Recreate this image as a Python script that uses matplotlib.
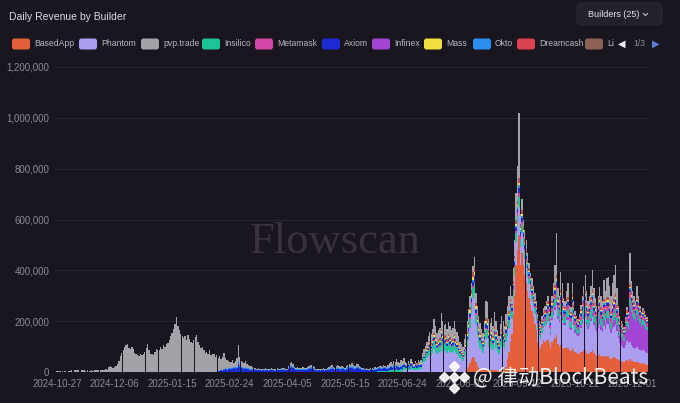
import matplotlib.pyplot as plt
import numpy as np
import pandas as pd
from matplotlib.patches import FancyBboxPatch
from matplotlib.lines import Line2D
from matplotlib.transforms import Affine2D

plt.rcParams['font.family'] = ['Liberation Sans', 'DejaVu Sans']

start = "2024-10-27"
n_days = 411
tick_labels = ["2024-10-27", "2024-12-06", "2025-01-15", "2025-02-24", "2025-04-05",
               "2025-05-15", "2025-06-24", "2025-08-03", "2025-09-12", "2025-10-22",
               "2025-12-01"]
y_ticks = [0, 200000, 400000, 600000, 800000, 1000000, 1200000]

# daily revenue per builder, thousands of USD, one value per day from 2024-10-27
pvp_trade = (
    [4, 5, 4, 0, 5, 4, 4, 0, 5, 4, 6, 0, 8, 6, 7, 6, 0, 6, 7, 6,
     5, 6, 0, 5, 6, 5, 6, 8, 7, 6, 7, 6, 8, 9, 10, 8, 18, 22, 20, 16,
     18, 24, 30, 45, 62, 75, 88, 98, 105, 110, 95, 90, 100, 92, 75, 70, 65, 62, 72, 68,
     70, 80, 95, 110, 85, 70, 72, 68, 80, 92, 85, 88, 100, 92, 105, 98, 110, 115, 125, 140,
     155, 170, 190, 215, 180, 165, 150, 140, 135, 140, 125, 145, 130, 120, 115, 125, 138, 146, 120, 105]
    + [95, 100, 85, 75, 80, 70, 88, 65, 72, 70, 60, 68, 51, 57, 44, 50, 64, 40, 36, 29,
       23, 22, 29, 15, 22, 34, 61, 34, 24, 20, 18, 22, 15, 13, 12, 10]
    + [5, 5, 4, 4, 5, 4, 4, 4, 3, 4, 4, 4, 4, 5, 4, 3, 4, 4, 4, 4, 5, 5, 4, 4, 4,
       8, 12, 14, 10, 6, 5, 5, 5, 4, 6, 6, 5, 5, 5, 7, 8, 8, 7, 5,
       4, 4, 4, 3, 4, 4, 4, 4, 5, 5, 7, 8, 6, 5, 7, 9, 7, 5, 8, 6, 6, 7, 8,
       9, 8, 10, 8, 7, 9, 10, 8, 6, 5, 4, 4, 5, 4, 4, 5, 4, 4, 5, 5, 5, 6, 6, 4, 6, 5, 4]
    + [11, 14, 17, 12, 19, 16, 23, 17, 15, 23, 16, 23, 13, 10, 15, 4, 13, 8, 3, 8, 6, 11, 8, 10]
    + [19, 20, 23, 26, 33, 38, 35, 40, 55, 43, 36, 40, 43, 60, 50, 44, 45, 43, 48, 44,
       40, 43, 50, 43, 39, 34, 29, 28, 24, 30, 37, 42, 49, 42, 27, 26, 36, 37, 42, 40,
       36, 33, 32, 43, 67, 69, 48, 40, 49, 39, 54, 44, 36, 28, 39, 50, 43, 36, 42]
    + [64, 61, 52, 31, 51, 63, 107, 136, 255,
       36, 41, 26, 38, 38, 29, 22, 13, 33, 28, 26, 20, 16, 16, 17, 14, 18,
       16, 15, 21, 10, 12,
       20, 41, 78, 166, 36, 29, 73, 57, 30, 24, 32, 53, 18, 18,
       42, 18, 14, 10, 8, 14, 15, 23, 35, 61, 47, 32, 31, 43, 75, 57,
       34, 25, 33, 40, 44, 44, 73, 57, 74, 79, 71, 59, 80, 92, 109, 67,
       32, 18, 10, 8, 8, 10, 13, 10,
       120, 47, 30, 26, 23, 47, 30, 12, 10, 9, 8, 8, 8]
)

axiom = (
    [0] * 112
    + [4, 5, 6, 5, 8, 10, 8, 10, 12, 10, 12, 14, 12, 15, 30, 18, 15, 14, 12, 14, 10, 10, 9, 8]
    + [9, 7, 7, 6, 8, 6, 5, 6, 5, 7, 6, 5, 6, 7, 6, 5, 5, 7, 6, 6, 7, 8, 7, 6, 6,
       12, 16, 18, 14, 10, 7, 9, 8, 7, 8, 9, 7, 8, 9, 12, 14, 13, 11, 9,
       6, 5, 6, 5, 6, 7, 5, 6, 7, 9, 11, 13, 10, 8, 12, 13, 11, 9, 12, 10, 8, 11, 13,
       15, 14, 17, 13, 11, 15, 16, 12, 10, 7, 7, 6, 8, 6, 5, 7, 7, 6, 9, 8, 9, 11, 10, 8, 12, 11, 9]
    + [8, 9, 10, 8, 10, 9, 11, 9, 8, 10, 9, 10, 8, 7, 8, 6, 9, 7, 6, 8, 7, 8, 7, 8]
    + [3, 4, 4, 5, 6, 7, 6, 7, 9, 7, 6, 7, 7, 9, 8, 7, 8, 7, 8, 7,
       7, 7, 8, 7, 6, 6, 5, 4, 4, 5, 6, 8, 10, 12, 14, 16, 17, 12, 10, 9,
       8, 7, 6, 8, 11, 11, 8, 8, 9, 7, 9, 8, 7, 6, 8, 9, 8, 7, 9]
    + [10, 12, 12, 11, 12, 14, 15, 16, 20,
       16, 16, 14, 13, 12, 11, 10, 10, 9, 9, 8, 8,
       7, 6, 6, 7, 8, 9, 10, 10, 9, 8,
       9, 10, 12, 14, 10, 9, 12, 11, 9, 9, 10, 11, 9, 9,
       11, 9, 8, 8, 7, 8, 9, 10, 11, 12, 10, 9, 10, 11, 12, 10,
       9, 8, 10, 11, 9, 8, 11, 10, 11, 11, 10, 9, 10, 11, 12, 10,
       9, 8, 7, 6, 6, 7, 8, 7, 11, 10, 9, 8, 7, 9, 8, 7, 6, 7, 7, 6, 6]
)

okto = (
    [0] * 115
    + [3, 4, 5, 4, 6, 5, 6, 5, 6, 8, 6, 15, 8, 6, 6, 5, 6, 5, 5, 4, 4]
    + [4, 3, 3, 2, 3, 3, 2, 2, 2, 3, 2, 2, 3, 3, 2, 2, 2, 3, 3, 2, 3, 3, 3, 2, 3,
       5, 7, 8, 6, 4, 3, 4, 3, 3, 3, 4, 3, 3, 4, 5, 6, 5, 4, 4,
       2, 2, 3, 2, 2, 3, 2, 3, 3, 4, 4, 5, 4, 3, 5, 5, 4, 4, 5, 4, 3, 4, 5,
       6, 6, 7, 5, 4, 6, 6, 5, 4, 3, 3, 2, 3, 3, 2, 3, 3, 2, 4, 3, 4, 5, 4, 4, 5, 5, 4]
    + [4, 5, 5, 4, 6, 5, 6, 5, 4, 5, 4, 5, 4, 3, 4, 3, 4, 3, 3, 4, 3, 3, 3, 3]
    + [2, 2, 2, 3, 3, 3, 3, 4, 4, 4, 3, 3, 4, 5, 4, 4, 4, 3, 4, 4,
       3, 4, 4, 3, 3, 3, 2, 2, 2, 3, 3, 4, 5, 6, 7, 8, 9, 6, 5, 4,
       4, 3, 3, 4, 6, 5, 4, 4, 4, 4, 5, 4, 3, 3, 4, 4, 4, 4, 5]
    + [5, 6, 6, 5, 6, 7, 8, 8, 10,
       8, 8, 7, 6, 6, 5, 5, 5, 4, 4, 4, 4,
       3, 3, 3, 3, 4, 4, 5, 5, 4, 4,
       4, 5, 6, 7, 5, 4, 6, 5, 4, 4, 5, 5, 4, 4,
       5, 4, 4, 4, 3, 4, 4, 5, 5, 6, 5, 4, 5, 5, 6, 5,
       4, 4, 5, 5, 4, 4, 5, 5, 5, 5, 5, 4, 5, 5, 6, 5,
       4, 4, 3, 3, 3, 3, 4, 3, 5, 5, 4, 4, 3, 4, 4, 3, 3, 3, 3, 3, 3]
)

insilico = (
    [0] * 223
    + [2, 3, 2, 2, 4, 3, 3]
    + [5, 7, 8, 6, 10, 8, 12, 9, 8, 10, 9, 12, 9, 8, 10, 7, 12, 8, 7, 9, 8, 10, 9, 10]
    + [12, 14, 16, 18, 22, 24, 22, 26, 30, 28, 24, 25, 26, 34, 30, 28, 28, 25, 30, 27,
       25, 26, 30, 25, 24, 21, 18, 16, 15, 20, 22, 28, 32, 35, 38, 40, 42, 35, 32, 30,
       27, 25, 22, 28, 35, 35, 30, 27, 30, 26, 32, 28, 24, 20, 26, 30, 28, 25, 30]
    + [25, 28, 30, 26, 30, 32, 35, 35, 40,
       35, 35, 32, 30, 28, 26, 25, 24, 22, 22, 20, 20,
       18, 16, 15, 18, 20, 22, 24, 25, 22, 20,
       24, 26, 30, 35, 26, 24, 30, 28, 24, 22, 25, 28, 22, 22,
       28, 24, 22, 20, 18, 20, 22, 25, 28, 30, 26, 24, 25, 28, 30, 26,
       24, 22, 25, 28, 24, 22, 28, 25, 28, 28, 26, 24, 26, 28, 30, 26,
       22, 20, 18, 16, 15, 18, 20, 18, 28, 24, 22, 20, 18, 22, 20, 18, 16, 18, 17, 16, 15]
)

phantom = (
    [0] * 240
    + [4, 6, 6, 7, 8, 6, 10, 8, 7, 9, 8, 10, 9, 11]
    + [32, 40, 45, 55, 62, 72, 68, 76, 92, 80, 70, 74, 78, 100, 88, 82, 85, 76, 88, 80,
       74, 78, 88, 76, 72, 62, 54, 50, 45, 58, 66, 88, 105, 140, 180, 230, 250, 150, 120, 100,
       85, 78, 70, 90, 125, 122, 95, 85, 96, 80, 105, 90, 74, 62, 85, 98, 90, 80, 100]
    + [90, 95, 100, 60, 60, 80, 90, 100, 110,
       70, 75, 70, 65, 60, 55, 55, 50, 40, 40, 40, 40, 45, 40, 40, 45, 50,
       60, 65, 75, 60, 50,
       85, 100, 110, 120, 100, 95, 120, 110, 95, 90, 105, 110, 85, 85,
       120, 100, 75, 70, 70, 75, 95, 110, 120, 130, 110, 100, 110, 120, 130, 110,
       105, 95, 110, 120, 105, 100, 120, 110, 125, 125, 115, 100, 115, 120, 130, 110,
       85, 70, 65, 60, 55, 65, 75, 70,
       70, 60, 58, 55, 52, 58, 55, 52, 50, 52, 50, 48, 46]
)

mass = (
    [0] * 245
    + [2, 3, 2, 3, 2, 2, 2, 2, 3]
    + [2, 3, 3, 4, 4, 5, 5, 5, 6, 5, 5, 5, 5, 7, 6, 6, 6, 5, 6, 5,
       5, 5, 6, 5, 5, 4, 4, 3, 3, 4, 5, 6, 7, 9, 10, 12, 12, 9, 8, 7,
       6, 5, 5, 6, 8, 8, 6, 6, 6, 5, 7, 6, 5, 4, 6, 7, 6, 5, 7]
    + [4, 5, 5, 4, 5, 6, 7, 8, 10,
       8, 8, 7, 6, 6, 5, 5, 5, 4, 4, 4, 4,
       3, 3, 3, 4, 4, 5, 5, 5, 4, 4,
       5, 5, 6, 7, 5, 5, 6, 5, 5, 4, 5, 6, 4, 4,
       6, 5, 4, 4, 4, 4, 5, 5, 6, 6, 5, 5, 5, 6, 7, 5,
       5, 4, 5, 6, 5, 4, 6, 5, 6, 6, 5, 5, 5, 6, 7, 5,
       4, 4, 4, 3, 3, 4, 4, 4, 6, 5, 5, 4, 4, 5, 4, 4, 3, 4, 4, 3, 3]
)

dreamcash = (
    [0] * 245
    + [3, 2, 2, 3, 3, 2, 2, 3, 2]
    + [3, 2, 4, 3, 5, 4, 6, 5, 5, 6, 4, 6, 5, 6, 7, 5, 6, 6, 5, 6,
       6, 4, 6, 6, 4, 5, 3, 4, 3, 4, 6, 5, 8, 8, 11, 11, 13, 8, 9, 6,
       7, 5, 4, 7, 7, 9, 5, 7, 5, 6, 6, 7, 4, 5, 5, 8, 5, 6, 6]
    + [5, 6, 6, 5, 6, 7, 9, 10, 12,
       10, 10, 9, 8, 7, 7, 6, 6, 6, 5, 5, 5,
       5, 4, 4, 5, 5, 6, 6, 7, 6, 5,
       6, 7, 8, 9, 7, 6, 8, 7, 6, 6, 7, 7, 6, 6,
       8, 6, 6, 5, 5, 6, 6, 7, 8, 8, 7, 6, 7, 8, 9, 7,
       6, 6, 7, 8, 7, 6, 8, 7, 8, 8, 7, 7, 7, 8, 9, 7,
       6, 5, 5, 5, 4, 5, 6, 5, 8, 7, 6, 6, 5, 6, 6, 5, 5, 5, 5, 4, 4]
)

metamask = (
    [0] * 254
    + [1, 2, 2, 2, 3, 3, 3, 3, 4, 4, 3, 3, 3, 5, 4, 4, 4, 3, 4, 4,
       3, 3, 4, 3, 3, 3, 2, 2, 2, 3, 3, 4, 5, 6, 7, 8, 8, 6, 5, 4,
       4, 3, 3, 4, 6, 6, 4, 4, 4, 4, 5, 4, 3, 3, 4, 5, 4, 4, 5]
    + [3, 3, 4, 4, 5, 6, 8, 10, 15,
       10, 10, 9, 8, 8, 7, 7, 8, 8, 9, 9, 10,
       10, 9, 9, 10, 12, 14, 15, 16, 14, 12,
       15, 16, 18, 22, 16, 15, 18, 17, 15, 14, 16, 18, 14, 14,
       18, 15, 14, 13, 12, 14, 16, 18, 20, 22, 18, 16, 18, 20, 24, 18,
       16, 15, 18, 20, 17, 15, 22, 18, 22, 22, 20, 18, 20, 22, 25, 20,
       16, 14, 13, 12, 11, 14, 16, 15, 25, 22, 20, 18, 16, 20, 18, 16, 14, 15, 14, 13, 12]
)

li = (
    [0] * 254
    + [2, 2, 2, 3, 3, 3, 3, 4, 4, 4, 3, 3, 4, 5, 4, 4, 4, 3, 4, 4,
       3, 4, 4, 3, 3, 3, 2, 2, 2, 3, 3, 4, 5, 6, 7, 8, 9, 6, 5, 4,
       4, 3, 3, 4, 6, 5, 4, 4, 4, 4, 5, 4, 3, 3, 4, 4, 4, 4, 5]
    + [4, 4, 5, 4, 5, 5, 6, 7, 8,
       7, 7, 6, 6, 5, 5, 5, 4, 4, 4, 4, 4,
       3, 3, 3, 4, 4, 4, 5, 5, 4, 4,
       4, 5, 5, 6, 5, 4, 5, 5, 4, 4, 5, 5, 4, 4,
       5, 4, 4, 4, 4, 4, 4, 5, 5, 6, 5, 4, 5, 5, 6, 5,
       4, 4, 5, 5, 5, 4, 5, 5, 5, 5, 5, 4, 5, 5, 6, 5,
       4, 4, 3, 3, 3, 4, 4, 4, 5, 5, 4, 4, 4, 4, 4, 4, 3, 3, 3, 3, 3]
)

based_app = (
    [0] * 285
    + [10, 20, 35, 50, 60, 55, 40, 25, 15, 10, 8,
       6, 7, 8, 6, 5, 6, 7, 6, 8, 6, 5, 7, 8, 6, 7, 10, 20]
    + [50, 80, 120, 150, 230, 300, 420, 480, 540,
       420, 470, 420, 380, 350, 320, 290, 265, 240, 215, 190, 165, 120, 100, 90, 110, 125,
       120, 125, 125, 115, 95,
       120, 125, 135, 145, 110, 100, 105, 95, 90, 95, 100, 95, 85, 82,
       95, 85, 80, 75, 70, 72, 78, 80, 88, 85, 75, 70, 72, 80, 85, 75,
       65, 62, 64, 70, 62, 58, 62, 60, 64, 62, 56, 52, 55, 58, 56, 50,
       48, 45, 42, 40, 38, 42, 46, 44,
       50, 45, 42, 40, 38, 40, 36, 34, 32, 34, 32, 30, 28]
)

infinex = (
    [0] * 340
    + [5, 6, 8, 6,
       8, 10, 12, 15, 10, 9, 12, 10, 8, 8, 10, 12, 9, 8,
       12, 10, 9, 8, 8, 9, 10, 12, 14, 16, 12, 10, 12, 14, 16, 12,
       18, 15, 18, 22, 18, 15, 22, 18, 22, 24, 20, 18, 22, 25, 30, 25,
       30, 28, 30, 32, 30, 45, 60, 55,
       140, 130, 120, 115, 110, 125, 115, 105, 95, 100, 98, 92, 90]
)

# stacking order, bottom to top
stack = [
    ("BasedApp", based_app, "#e5603a"),
    ("Phantom", phantom, "#aa9ef0"),
    ("Infinex", infinex, "#a346d6"),
    ("Insilico", insilico, "#1dc497"),
    ("Metamask", metamask, "#d446a5"),
    ("Axiom", axiom, "#1d2bd4"),
    ("Okto", okto, "#2a8eef"),
    ("Mass", mass, "#f2de3c"),
    ("Dreamcash", dreamcash, "#d8434f"),
    ("Li", li, "#8a6154"),
    ("pvp.trade", pvp_trade, "#a4a2a8"),
]
colors = {name: c for name, _, c in stack}
legend_names = ["BasedApp", "Phantom", "pvp.trade", "Insilico", "Metamask", "Axiom",
                "Infinex", "Mass", "Okto", "Dreamcash", "Li"]

for name, vals, _ in stack:
    assert len(vals) == n_days, (name, len(vals))

BG = "#1a1620"
TXT = "#8d8995"

fig = plt.figure(figsize=(6.8, 4.03), dpi=100, facecolor=BG)
# pixel coordinates, y downwards
PX = Affine2D().scale(1 / 680, -1 / 403).translate(0, 1) + fig.transFigure

ax = fig.add_axes([55 / 680, 1 - 372 / 403, 593 / 680, 305 / 403])
ax.set_facecolor(BG)

x = np.arange(n_days)
bottom = np.zeros(n_days)
for name, vals, color in stack:
    v = np.array(vals, dtype=float) * 1000
    ax.bar(x, v, width=0.95, bottom=bottom, color=color, linewidth=0, zorder=2)
    bottom += v

ax.set_xlim(-1.4, 410.6)
ax.set_ylim(0, 1.2e6)
tick_pos = (pd.to_datetime(tick_labels) - pd.Timestamp(start)).days
ax.set_xticks(tick_pos)
ax.set_xticklabels(tick_labels)
ax.set_yticks(y_ticks)
ax.set_yticklabels([f"{v:,}" for v in y_ticks])
ax.tick_params(length=0, colors=TXT, labelsize=7)
ax.tick_params(axis="y", pad=4)
ax.tick_params(axis="x", pad=5)
for s in ax.spines.values():
    s.set_visible(False)
ax.yaxis.grid(True, color="#2a2631", linewidth=0.8, zorder=0)
ax.set_axisbelow(True)

# watermark inside chart
ax.text(335, 242, "Flowscan", transform=PX, ha="center", va="center",
        fontsize=32, family="Liberation Serif", color="#37323d", zorder=1)

# title
fig.text(9, 17, "Daily Revenue by Builder", transform=PX, fontsize=7.5,
         color="#dcdae2", va="center", ha="left")

# builders button
fig.patches.append(FancyBboxPatch((577, 3), 85, 22, boxstyle="round,pad=0,rounding_size=4",
                                  transform=PX, facecolor="#24212b", edgecolor="#2f2c37",
                                  linewidth=0.6, figure=fig))
fig.text(588, 14.5, "Builders (25)", transform=PX, fontsize=6.5, color="#e4e2ea",
         va="center", ha="left")
fig.add_artist(Line2D([643.5, 645.5, 647.5], [13.5, 15.5, 13.5], transform=PX,
                      color="#c8c6ce", linewidth=0.8))

# legend row
legend_x = [12, 79, 141, 202, 255, 322, 372, 424, 473, 517, 585]
for name, lx in zip(legend_names, legend_x):
    fig.patches.append(FancyBboxPatch((lx, 38.5), 18, 11, boxstyle="round,pad=0,rounding_size=2.5",
                                      transform=PX, facecolor=colors[name], edgecolor="none",
                                      figure=fig))
    fig.text(lx + 22, 44, name, transform=PX, fontsize=6.2, color="#b9b6c0",
             va="center", ha="left")
fig.text(622, 44, "◀", transform=PX, fontsize=7, color="#f0f0f4", va="center", ha="center",
         family="DejaVu Sans")
fig.text(639, 44, "1/3", transform=PX, fontsize=6.2, color="#8d8995", va="center", ha="center")
fig.text(656, 44, "▶", transform=PX, fontsize=7, color="#5b7fdc", va="center", ha="center",
         family="DejaVu Sans")

# source watermark
fig.add_artist(Line2D([454, 444, 464, 454, 454], [366, 377, 377, 388, 377], transform=PX,
                      linestyle="none", marker="D", markersize=5, color="white", alpha=0.9))
fig.text(473, 377, "@ 律动BlockBeats", transform=PX, fontsize=15, color="white", alpha=0.92,
         va="center", ha="left", family=["Noto Sans CJK SC", "DejaVu Sans"])

fig.savefig("out.png", dpi=100, facecolor=BG)
